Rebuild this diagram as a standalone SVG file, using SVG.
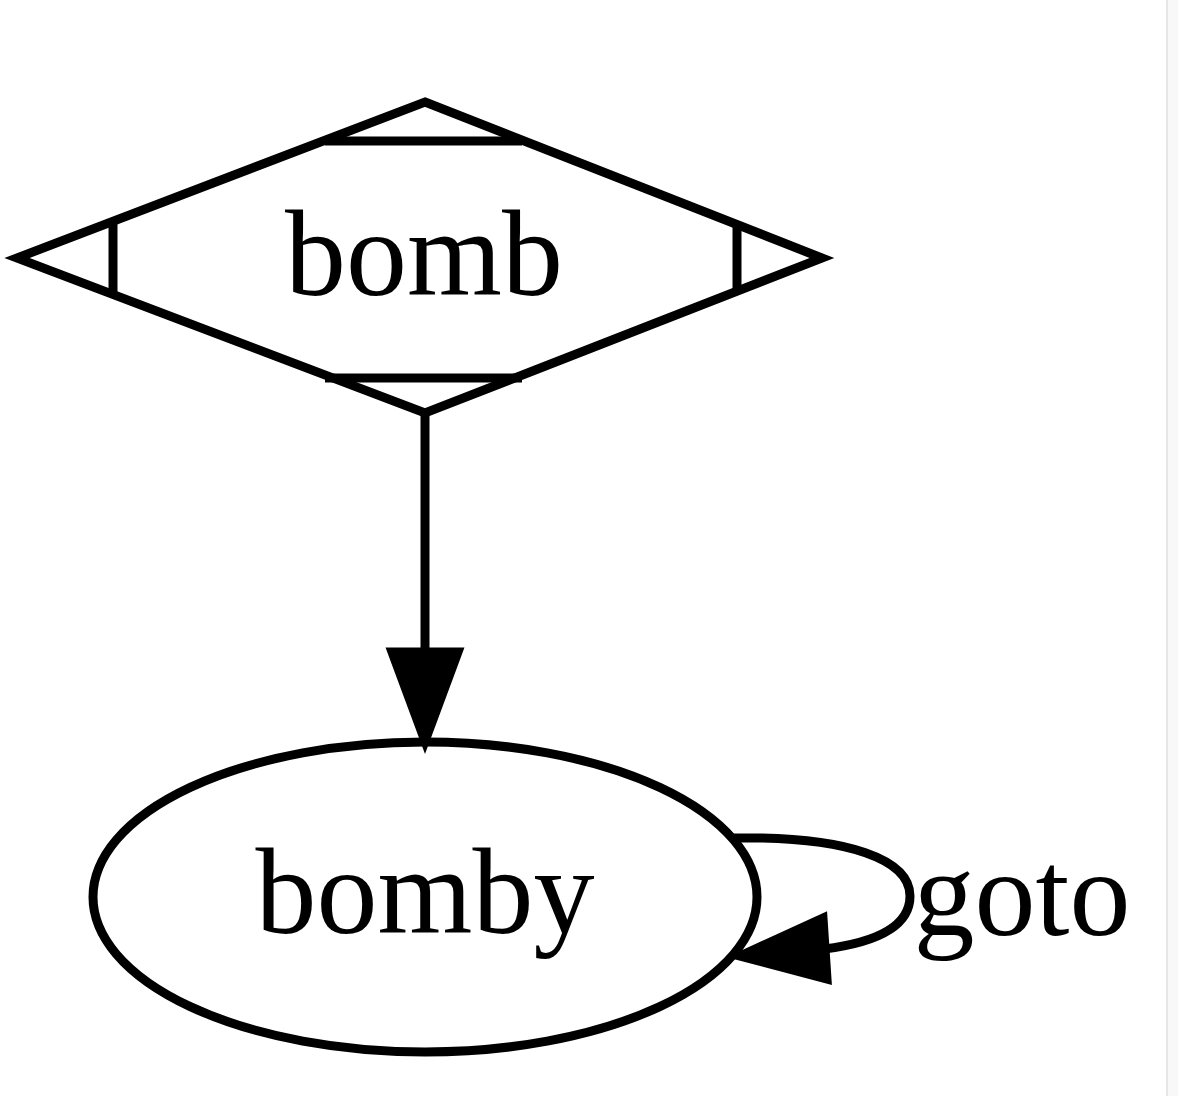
<svg xmlns="http://www.w3.org/2000/svg" width="1178" height="1096" viewBox="0 0 1178 1096">
<style>
.s{fill:none;stroke:#000;stroke-width:9px}
.f{fill:#000;stroke:#000;stroke-width:9px}
.t{font-family:"Liberation Serif","Times New Roman",serif;font-size:122px;text-anchor:middle;fill:#000}
</style>
<rect x="0" y="0" width="1178" height="1096" fill="#fff"/>
<rect x="1168" y="0" width="10" height="1096" fill="#f8f8f8"/>
<line x1="1167" y1="0" x2="1167" y2="1096" stroke="#e6e6e6" stroke-width="2"/>
<g id="node-bomb">
<polygon class="s" points="425,102 822,258 425,413 17,258"/>
<line class="s" x1="113" y1="222" x2="113" y2="294"/>
<line class="s" x1="737" y1="222" x2="737" y2="294"/>
<line class="s" x1="325" y1="141" x2="522" y2="141"/>
<line class="s" x1="325" y1="378" x2="522" y2="378"/>
<text class="t" x="424" y="295">bomb</text>
</g>
<g id="node-bomby">
<ellipse class="s" cx="425" cy="897" rx="332" ry="155"/>
<text class="t" x="425" y="933">bomby</text>
</g>
<g id="edges">
<line class="s" x1="425" y1="414" x2="425" y2="652"/>
<polygon class="f" points="392,652 458,652 425,741"/>
<path class="s" d="M733,838 C850,836 910,860 910,896 C910,925 880,942 824,949"/>
<polygon class="f" points="823,918 827,979 740,956"/>
<text class="t" x="1022" y="935">goto</text>
</g>
</svg>
